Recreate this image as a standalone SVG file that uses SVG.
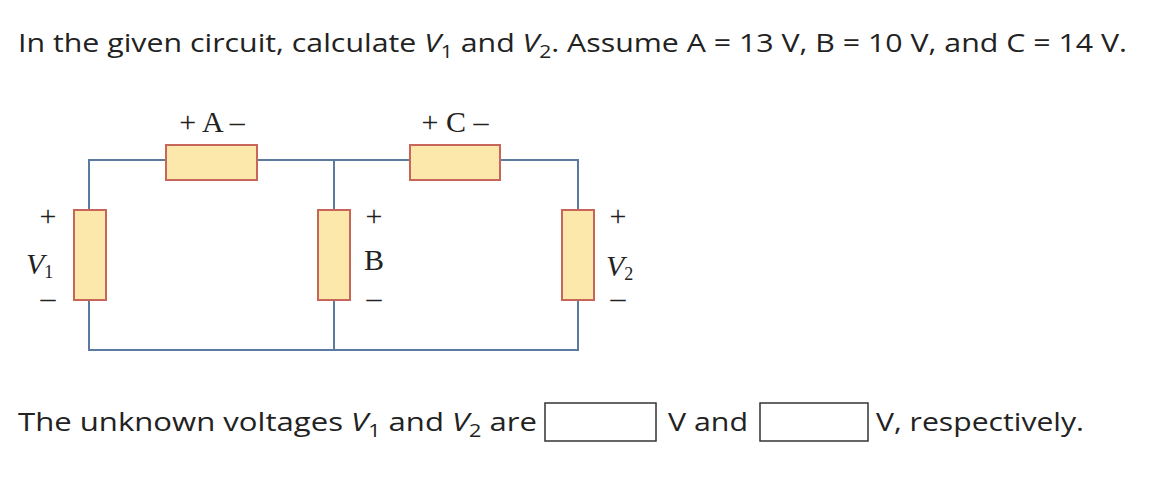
<svg xmlns="http://www.w3.org/2000/svg" width="1152" height="488" viewBox="0 0 1152 488">
<style>
.t{font-family:"Open Sans","Liberation Sans",Arial,sans-serif;font-size:26px;fill:#222}
.s{font-family:"Liberation Serif","Times New Roman",serif;font-size:30px;fill:#222}
.w{stroke:#5b7aa0;stroke-width:2;fill:none}
.r{fill:#fce8aa;stroke:#c8665a;stroke-width:2}
.b{fill:#fff;stroke:#333;stroke-width:1.5}
</style>
<rect width="1152" height="488" fill="#fff"/>
<text class="t" x="18" y="52" textLength="1109" lengthAdjust="spacingAndGlyphs">In the given circuit, calculate <tspan font-style="italic">V</tspan><tspan font-size="18" dy="6">1</tspan><tspan dy="-6"> and </tspan><tspan font-style="italic">V</tspan><tspan font-size="18" dy="6">2</tspan><tspan dy="-6">. Assume A = 13 V, B = 10 V, and C = 14 V.</tspan></text>
<g id="connectors">
<path class="w" d="M89 210V160H166M257 160H410M500 160H578V210M334 160V210M89 300V350H578V300M334 300V350"/>
</g>
<g id="A"><rect class="r" x="166" y="145" width="91" height="35"/><text class="s" x="212" y="132" text-anchor="middle">+ A –</text></g>
<g id="C"><rect class="r" x="410" y="145" width="90" height="35"/><text class="s" x="455" y="132" text-anchor="middle">+ C –</text></g>
<g id="V1"><rect class="r" x="74" y="210" width="32" height="90"/>
<text class="s" x="48" y="226" text-anchor="middle">+</text>
<text class="s" x="26" y="274" font-style="italic">V<tspan font-size="18" dy="4" font-style="normal">1</tspan></text>
<text class="s" x="48" y="308" text-anchor="middle">–</text></g>
<g id="B"><rect class="r" x="318" y="210" width="32" height="90"/>
<text class="s" x="374" y="226" text-anchor="middle">+</text>
<text class="s" x="374" y="270" text-anchor="middle">B</text>
<text class="s" x="374" y="308" text-anchor="middle">–</text></g>
<g id="V2"><rect class="r" x="562" y="210" width="32" height="90"/>
<text class="s" x="618" y="226" text-anchor="middle">+</text>
<text class="s" x="606" y="276" font-style="italic">V<tspan font-size="18" dy="4" font-style="normal">2</tspan></text>
<text class="s" x="618" y="308" text-anchor="middle">–</text></g>
<text class="t" x="18" y="431" textLength="519" lengthAdjust="spacingAndGlyphs">The unknown voltages <tspan font-style="italic">V</tspan><tspan font-size="18" dy="6">1</tspan><tspan dy="-6"> and </tspan><tspan font-style="italic">V</tspan><tspan font-size="18" dy="6">2</tspan><tspan dy="-6"> are</tspan></text>
<rect class="b" x="545" y="403" width="111" height="38"/>
<text class="t" x="668" y="431" textLength="80" lengthAdjust="spacingAndGlyphs">V and</text>
<rect class="b" x="760" y="403" width="108" height="38"/>
<text class="t" x="876" y="431" textLength="208" lengthAdjust="spacingAndGlyphs">V, respectively.</text>
</svg>
